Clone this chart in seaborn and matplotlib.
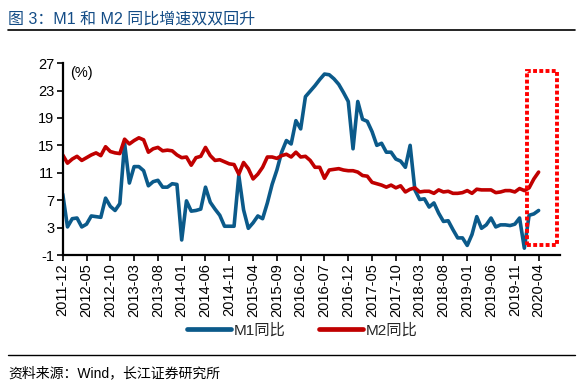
import pandas as pd
import numpy as np
import matplotlib
matplotlib.use("Agg")
import matplotlib.pyplot as plt
from matplotlib.patches import Rectangle
from matplotlib.lines import Line2D
import seaborn as sns

# monthly data, 2011-12 .. 2020-04
months = [str(p) for p in pd.period_range("2011-12", "2020-04", freq="M")]

m1 = [7.9,
      3.1, 4.3, 4.4, 3.1, 3.5, 4.7, 4.6, 4.5, 7.3, 6.1, 5.5, 6.5,
      15.3, 9.5, 11.9, 11.9, 11.3, 9.1, 9.7, 9.9, 8.9, 8.9, 9.4, 9.3,
      1.2, 6.9, 5.4, 5.5, 5.7, 8.9, 6.7, 5.7, 4.8, 3.2, 3.2, 3.2,
      10.6, 5.6, 2.9, 3.7, 4.7, 4.3, 6.6, 9.3, 11.4, 14.0, 15.7, 15.2,
      18.6, 17.4, 22.1, 22.9, 23.7, 24.6, 25.4, 25.3, 24.7, 23.9, 22.7, 21.4,
      14.5, 21.4, 18.8, 18.5, 17.0, 15.0, 15.3, 14.0, 14.0, 13.0, 12.7, 11.8,
      15.0, 8.5, 7.1, 7.2, 6.0, 6.6, 5.1, 3.9, 4.0, 2.7, 1.5, 1.5,
      0.4, 2.0, 4.6, 2.9, 3.4, 4.4, 3.1, 3.4, 3.4, 3.3, 3.5, 4.4,
      0.0, 4.8, 5.0, 5.5]

m2 = [13.6,
      12.4, 13.0, 13.4, 12.8, 13.2, 13.6, 13.9, 13.5, 14.8, 14.1, 13.9, 13.8,
      15.9, 15.2, 15.7, 16.1, 15.8, 14.0, 14.5, 14.7, 14.2, 14.3, 14.2, 13.6,
      13.2, 13.3, 12.1, 13.2, 13.4, 14.7, 13.5, 12.8, 12.9, 12.6, 12.3, 12.2,
      10.8, 12.5, 11.6, 10.1, 10.8, 11.8, 13.3, 13.3, 13.1, 13.5, 13.7, 13.3,
      14.0, 13.3, 13.4, 12.8, 11.8, 11.8, 10.2, 11.4, 11.5, 11.6, 11.4, 11.3,
      11.3, 11.1, 10.6, 10.5, 9.6, 9.4, 9.2, 8.9, 9.2, 8.8, 9.1, 8.2,
      8.6, 8.8, 8.2, 8.3, 8.3, 8.0, 8.5, 8.2, 8.3, 8.0, 8.0, 8.1,
      8.4, 8.0, 8.6, 8.5, 8.5, 8.5, 8.1, 8.2, 8.4, 8.4, 8.2, 8.7,
      8.4, 8.8, 10.1, 11.1]

series_names = ["M1同比", "M2同比"]
colors = ["#0B5A8A", "#C00000"]

sns.set_theme(style="white")
plt.rcParams["font.family"] = ["Liberation Sans", "Noto Sans CJK SC"]
plt.rcParams["axes.unicode_minus"] = False

df = pd.DataFrame({"idx": np.arange(len(months)), "month": months,
                   series_names[0]: m1, series_names[1]: m2})
long_df = df.melt(id_vars=["idx", "month"], value_vars=series_names,
                  var_name="series", value_name="value")

fig = plt.figure(figsize=(5.83, 3.87), dpi=100)
ax = fig.add_axes([0.1076, 0.341, 0.853, 0.496])

sns.lineplot(data=long_df, x="idx", y="value", hue="series",
             palette=colors, linewidth=2.6, ax=ax, legend=False)

ax.set_xlim(0, 104.5)
ax.set_ylim(-1, 27)
ax.set_yticks(np.arange(-1, 28, 4))
tick_pos = np.arange(0, len(months), 5)
ax.set_xticks(tick_pos)
ax.set_xticklabels([months[i] for i in tick_pos], rotation=90)
ax.tick_params(axis="both", direction="out", length=4, width=1.2,
               color="black", labelsize=10.5, labelcolor="black",
               bottom=True, left=True, pad=2)
ax.set_xlabel("")
ax.set_ylabel("")
for side in ["top", "right"]:
    ax.spines[side].set_visible(False)
for side in ["left", "bottom"]:
    ax.spines[side].set_color("black")
    ax.spines[side].set_linewidth(1.6)

ax.text(0.015, 0.948, "(%)", transform=ax.transAxes, ha="left",
        va="center", fontsize=10.5, color="black")

# highlight box round the latest months
box_start = months.index("2020-01") + 0.5
ax.add_patch(Rectangle((box_start, 0.45), 6.3, 25.45, fill=False,
                       edgecolor="#FF0000", linewidth=2.8,
                       linestyle=(0, (1, 0.6)), clip_on=False, zorder=5))

handles = [Line2D([0], [0], color=c, lw=3.4) for c in colors]
fig.legend(handles, series_names, loc="center", bbox_to_anchor=(0.518, 0.147),
           ncol=2, frameon=False, fontsize=11, handlelength=2.9,
           handletextpad=0.15, columnspacing=2.2)

fig.text(0.014, 0.950, "图 3：M1 和 M2 同比增速双双回升", fontsize=11.5,
         color="#134C86", ha="left", va="center")
fig.add_artist(Line2D([0.014, 0.986], [0.922, 0.922], color="black", lw=1.2))
fig.add_artist(Line2D([0.014, 0.986], [0.083, 0.083], color="black", lw=1.0))
fig.text(0.014, 0.036, "资料来源：Wind，长江证券研究所", fontsize=10,
         color="black", ha="left", va="center")

fig.savefig("out.png", dpi=100)
